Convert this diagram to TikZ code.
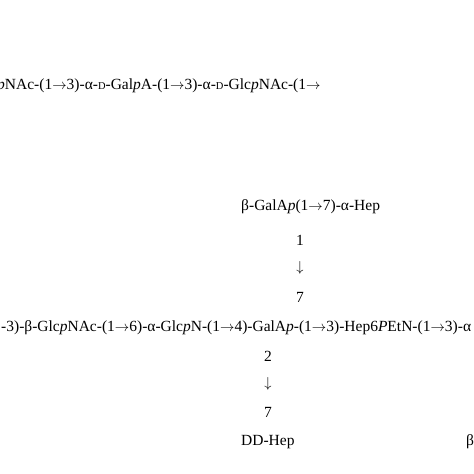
\documentclass[tikz,border=0pt]{standalone}
\usepackage{fontspec}
\setmainfont{Liberation Serif}
\newcommand{\smD}{{\fontsize{10.5}{12}\selectfont D}}
\newcommand{\ra}{\ensuremath{\rightarrow}}
\newcommand{\da}{\ensuremath{\downarrow}}
\begin{document}
\begin{tikzpicture}[x=1pt,y=-1pt,
  txt/.style={inner sep=0pt,font=\fontsize{15.5}{18}\selectfont}]
\useasboundingbox[fill=white] (0,0) rectangle (474,474);
% top chain
\node[txt,anchor=west] (top) at (-3,86) {\textit{p}NAc-(1\ra3)-α-\smD-Gal\textit{p}A-(1\ra3)-α-\smD-Glc\textit{p}NAc-(1\ra};
% side branch 1
\node[txt,anchor=west] (br1) at (241,207) {β-GalA\textit{p}(1\ra7)-α-Hep};
\node[txt] (n1) at (300,240) {1};
\node[txt] (a1) at (300,268) {\da};
\node[txt] (s1) at (300,297) {7};
% main chain
\node[txt,anchor=west] (main) at (1,328) {-3)-β-Glc\textit{p}NAc-(1\ra6)-α-Glc\textit{p}N-(1\ra4)-GalA\textit{p}-(1\ra3)-Hep6\textit{P}EtN-(1\ra3)-α};
% side branch 2
\node[txt] (n2) at (268,356) {2};
\node[txt] (a2) at (268,384) {\da};
\node[txt] (s2) at (268,412) {7};
\node[txt,anchor=west] (dd) at (241,442) {DD-Hep};
\node[txt,anchor=west] (b2) at (466,442) {β};
\end{tikzpicture}
\end{document}
